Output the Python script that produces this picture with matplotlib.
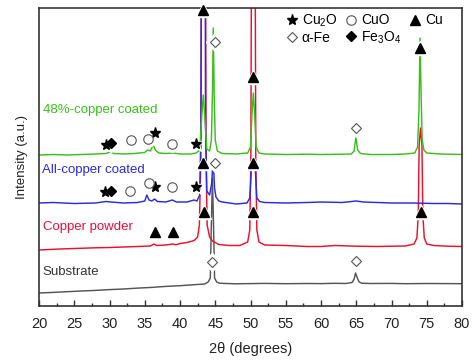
import matplotlib
matplotlib.use("Agg")
import matplotlib.pyplot as plt
from matplotlib.lines import Line2D

plt.rcParams['font.family'] = ['Liberation Sans', 'DejaVu Sans']
plt.rcParams['mathtext.fontset'] = 'custom'
plt.rcParams['mathtext.rm'] = 'Liberation Sans'
plt.rcParams['mathtext.default'] = 'rm'

# ---------------- data (2theta, relative intensity, a.u.) ----------------
sub_x = [20, 22, 24, 26, 28, 30, 32, 34, 36, 38, 40, 42, 43.5, 44.0, 44.3, 44.42, 44.6,
         44.78, 44.9, 45.2, 45.6, 46.5, 48, 50, 52, 55, 58, 60, 62, 63.5, 64.4, 64.7, 64.9,
         65.1, 65.4, 65.8, 67, 70, 72, 75, 78, 80]
sub_y = [0, 0.6, 1.3, 2.0, 2.6, 3.4, 4.0, 4.9, 5.6, 6.6, 7.3, 8.3, 9.0, 11, 15, 60, 115,
         60, 15, 11, 9.8, 9.5, 9.2, 9.4, 9.6, 9.3, 9.5, 9.4, 9.7, 9.5, 10.5, 14, 20,
         16, 11, 9.8, 9.5, 9.6, 9.3, 9.5, 9.4, 9.3]

cu_x = [20, 23, 25, 28, 30, 32, 34, 35.8, 36.3, 36.7, 38, 39.0, 39.4, 40, 41, 42, 42.5, 42.75,
        42.95, 43.08, 43.33, 43.58, 43.7, 43.85, 44.2, 44.6, 45.5, 47, 48.5, 49.6, 49.9, 50.05,
        50.18, 50.4, 50.62, 50.75, 50.9, 51.2, 52, 55, 58, 60, 62, 65, 68, 70, 72, 73.2, 73.6,
        73.8, 73.92, 74.12, 74.32, 74.44, 74.65, 75.0, 76, 78, 80]
cu_y = [0, 1.0, 1.5, 2.2, 2.5, 3.0, 3.5, 4.0, 6.0, 4.5, 5.0, 6.0, 5.2, 6.5, 7.5, 9.5, 13, 25,
        90, 400, 1000, 400, 90, 25, 13, 9, 5.5, 4.5, 4.5, 8, 20, 90,
        400, 1000, 400, 90, 20, 8, 5, 4.5, 3.5, 3.5, 4.5, 3.8, 3.5, 3.8, 4.0, 6, 12,
        35, 105, 122, 105, 35, 12, 6, 4.5, 3.8, 3.5]

all_x = [20, 22, 25, 28, 29.5, 30.2, 32, 34, 35.0, 35.3, 35.6, 36.0, 36.4, 36.8, 38, 38.9,
         39.5, 41, 42.0, 42.4, 42.8, 42.98, 43.06, 43.3, 43.54, 43.62, 43.8, 44.2, 44.5, 44.7,
         44.9, 45.1, 45.5, 46, 47, 48, 49.5, 49.9, 50.15, 50.4, 50.65, 50.9, 51.3, 52, 55,
         58, 60, 63, 65, 66, 68, 70, 73, 76, 78, 80]
all_y = [0, 0.5, -0.5, 0, 1.5, 1.0, 0, 0.5, 2, 8, 3, 2, 4, 1.5, 1, 3,
         1, 1, 3, 2, 8, 80, 400, 1000, 400, 80, 12, 8, 20, 45,
         15, 6, 2, 1, 0, -1, 0, 5, 38, 42, 38, 5, 1.5, 0.5, 0,
         0.5, 1, 0.5, 2, 1, 0.5, 0, 0, -0.5, -0.5, -1]

p48_x = [20, 22, 24, 26, 28, 29.5, 30.1, 30.6, 32, 33.5, 35.0, 35.4, 35.8, 36.2, 36.5, 37,
         38, 39, 40, 41.5, 42.3, 42.8, 43.1, 43.3, 43.5, 43.8, 44.2, 44.45, 44.6, 44.72,
         44.85, 45.0, 45.3, 46, 48, 49.6, 50.0, 50.2, 50.4, 50.6, 50.8, 51.2, 52, 55, 58,
         60, 62, 64.3, 64.7, 64.95, 65.2, 65.6, 67, 70, 72, 73.3, 73.7, 73.9, 74.05, 74.2,
         74.35, 74.6, 75, 77, 80]
p48_y = [0, 0.5, 0, 0.5, 1, 1.5, 3, 1.5, 1, 1.5, 2.5, 5, 4, 10, 5, 2,
         1.5, 2, 1, 1, 2, 5, 40, 60, 40, 6, 4, 15, 60, 127,
         60, 15, 4, 1.5, 1, 2, 8, 40, 62, 40, 8, 2, 1, 0.5, 0.8,
         0.5, 0.7, 1, 4, 18, 5, 1.5, 0.5, 0.5, 1, 2, 8, 45, 117, 60,
         15, 5, 2, 1, 0.5]

series_names = ["Substrate", "Copper powder", "All-copper coated", "48%-copper coated"]
series_x = [sub_x, cu_x, all_x, p48_x]
series_y = [sub_y, cu_y, all_y, p48_y]
offsets = [13, 56, 103, 151]
line_colors = ["#555555", "#e8122c", "#2b2be0", "#3cbf1e"]
text_colors = ["#333333", "#e4103a", "#2b2bd9", "#38c01a"]
label_pos = [(20.45, 34), (20.55, 79), (20.45, 136), (20.55, 196)]

# phase markers (2theta, level)
cu2o_pts = [(29.5, 161), (36.4, 173), (42.3, 162), (29.4, 114), (36.4, 119), (42.2, 119)]
cuo_pts = [(33.0, 166), (35.4, 167), (38.9, 162), (32.9, 115), (35.6, 123), (38.9, 119)]
cu_pts = [(43.3, 296), (50.4, 229), (74.1, 258), (43.3, 143), (50.4, 143),
          (36.4, 74), (39.0, 74), (43.4, 94), (50.4, 94), (74.2, 94)]
fe_pts = [(44.95, 264), (65.0, 178), (44.95, 143), (44.6, 44), (65.0, 45)]
fe3o4_pts = [(30.2, 163), (30.2, 115)]

xticks = [20, 25, 30, 35, 40, 45, 50, 55, 60, 65, 70, 75, 80]

# ---------------- figure ----------------
fig = plt.figure(figsize=(4.74, 3.61), dpi=100)
ax = fig.add_axes([39/474, 1-306/361, 423/474, 298/361])

for xs, ys, off, c in zip(series_x, series_y, offsets, line_colors):
    ax.plot(xs, [v + off for v in ys], color=c, lw=1.05, zorder=2)

for name, (lx, ly), c in zip(series_names, label_pos, text_colors):
    ax.text(lx, ly, name, color=c, fontsize=9.5, va='center', ha='left')

styles = {
    'cu2o': dict(marker='*', ms=8, mfc='black', mec='black'),
    'cuo': dict(marker='o', ms=6.8, mfc='white', mec='#555555', mew=0.8),
    'cu': dict(marker='^', ms=6.5, mfc='black', mec='black'),
    'fe': dict(marker='D', ms=5.2, mfc='white', mec='#555555', mew=0.8),
    'fe3o4': dict(marker='D', ms=5.2, mfc='black', mec='black'),
}
for key, pts in [('cu2o', cu2o_pts), ('cuo', cuo_pts), ('cu', cu_pts),
                 ('fe', fe_pts), ('fe3o4', fe3o4_pts)]:
    st = styles[key]
    xs = [p[0] for p in pts]
    ys = [p[1] for p in pts]
    # white halo masking lines
    ax.plot(xs, ys, ls='none', marker=st['marker'], ms=st['ms'] + 4, mfc='white',
            mec='white', zorder=4, clip_on=False)
    ax.plot(xs, ys, ls='none', zorder=5, clip_on=False, **st)

handles = [
    Line2D([], [], ls='none', **styles['cu2o']),
    Line2D([], [], ls='none', **styles['fe']),
    Line2D([], [], ls='none', **styles['cuo']),
    Line2D([], [], ls='none', **styles['fe3o4']),
    Line2D([], [], ls='none', **styles['cu']),
]
labels = [r'Cu$_2$O', 'α-Fe', 'CuO', r'Fe$_3$O$_4$', 'Cu']
ax.legend(handles, labels, ncol=3, loc='upper left', bbox_to_anchor=(0.585, 0.985),
          frameon=False, fontsize=10, handlelength=0.8, handletextpad=0.3,
          columnspacing=0.6, labelspacing=0.12, borderpad=0, borderaxespad=0)

ax.set_xlim(20, 80)
ax.set_ylim(0, 298)
ax.set_xticks(xticks)
ax.set_xticks([x + 2.5 for x in xticks[:-1]], minor=True)
ax.set_yticks([])
ax.tick_params(axis='x', which='major', direction='in', length=4, width=1,
               labelsize=10.5, colors='#333333', pad=8)
ax.tick_params(axis='x', which='minor', direction='in', length=2.5, width=1, colors='#333333')
ax.tick_params(axis='x', labelcolor='#222222')
for sp in ax.spines.values():
    sp.set_color('#333333')
    sp.set_linewidth(1.2)
    sp.set_zorder(3)
ax.set_xlabel('2θ (degrees)', fontsize=10.5, color='#222222', labelpad=8)
ax.set_ylabel('Intensity (a.u.)', fontsize=9.5, color='#222222', labelpad=8)

fig.savefig('out.png', dpi=100)
